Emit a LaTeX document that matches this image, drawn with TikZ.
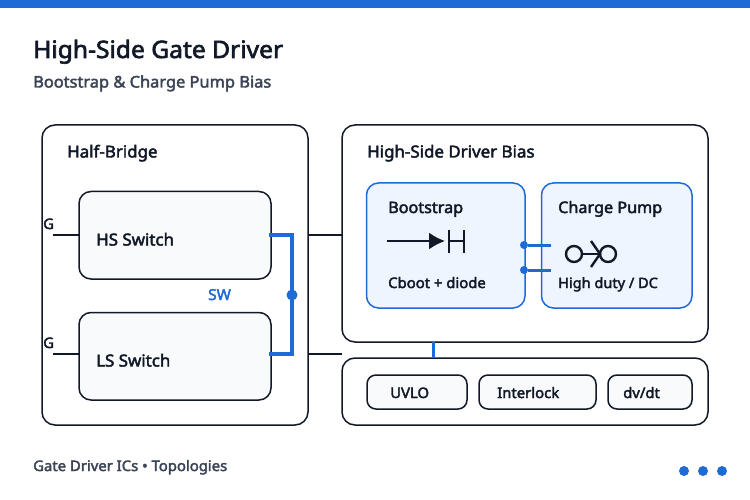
\documentclass[tikz,border=0pt]{standalone}
\usepackage{fontspec}
\setmainfont{Noto Sans}[BoldFont={Noto Sans},BoldFeatures={FakeBold=2.6,FakeStretch=1.025}]
\usetikzlibrary{arrows.meta}
\usetikzlibrary{positioning}
\usetikzlibrary{calc}
\definecolor{accent}{HTML}{1F6BD6}
\definecolor{ink}{HTML}{111827}
\definecolor{slate}{HTML}{3B4456}
\definecolor{softfill}{HTML}{F8FAFC}
\definecolor{bluefill}{HTML}{EEF5FE}
\tikzstyle{panel} = [rectangle, draw=ink, line width=1.5pt, fill=white, rounded corners=13pt, anchor=north west, inner sep=0pt, outer sep=0pt]
\tikzstyle{switchbox} = [rectangle, draw=ink, line width=1.5pt, fill=softfill, rounded corners=12pt, anchor=north west, inner sep=0pt, outer sep=0pt]
\tikzstyle{biasbox} = [rectangle, draw=accent, line width=1.5pt, fill=bluefill, rounded corners=12pt, anchor=north west, inner sep=0pt, outer sep=0pt]
\tikzstyle{chip} = [rectangle, draw=ink, line width=1.5pt, fill=softfill, rounded corners=9pt, anchor=north west, inner sep=0pt, outer sep=0pt]
\tikzstyle{headtext} = [anchor=base west, inner sep=0pt, text=ink, font=\bfseries\fontsize{16.5}{18}\selectfont]
\tikzstyle{smalltext} = [anchor=base west, inner sep=0pt, text=ink, font=\bfseries\fontsize{14.5}{16}\selectfont]
\tikzstyle{wire} = [draw=ink, line width=2pt]
\tikzstyle{bluewire} = [draw=accent, line width=3pt]
\tikzstyle{junction} = [circle, fill=accent, inner sep=0pt, outer sep=0pt, minimum size=8pt]
\tikzstyle{pumpring} = [circle, draw=ink, line width=2.4pt, inner sep=0pt, outer sep=0pt, minimum size=16pt]
\tikzstyle{pagedot} = [circle, fill=accent, inner sep=0pt, outer sep=0pt, minimum size=10pt]

\begin{document}
\begin{tikzpicture}[x=1pt,y=-1pt]
	\useasboundingbox (0,0) rectangle (750,500);

	% header
	\node [rectangle, fill=accent, anchor=north west, minimum width=750pt, minimum height=8pt, inner sep=0pt, outer sep=0pt] (topbar) at (0,0) {};
	\node [anchor=base west, inner sep=0pt, text=ink, font=\bfseries\fontsize{24}{28}\selectfont] (title) at (33,58) {High-Side Gate Driver};
	\node [anchor=base west, inner sep=0pt, text=slate, font=\bfseries\fontsize{16}{18}\selectfont] (subtitle) at (33,87.5) {Bootstrap \& Charge Pump Bias};

	% panels
	\node [panel, minimum width=266pt, minimum height=300pt] (bridge) at (42,125) {};
	\node [panel, minimum width=366pt, minimum height=217pt] (bias) at (342,125) {};
	\node [panel, minimum width=366pt, minimum height=67pt] (protect) at (342,358) {};
	\node [headtext] (bridgelabel) at (67,157.5) {Half-Bridge};
	\node [headtext] (biaslabel) at (367,157.5) {High-Side Driver Bias};

	% half bridge
	\node [switchbox, minimum width=192pt, minimum height=87.5pt] (HS) at (79,191.5) {};
	\node [switchbox, minimum width=192pt, minimum height=87.5pt] (LS) at (79,312.5) {};
	\node [headtext] (hslabel) at (96,245.5) {HS Switch};
	\node [headtext] (lslabel) at (96,366.5) {LS Switch};
	\node [smalltext] (ghs) at (43,229) {G};
	\node [smalltext] (gls) at (43,348) {G};
	\coordinate (hsgate) at (53,234.5);
	\coordinate (lsgate) at (53,353.5);
	\draw[wire] (hsgate) -- (hsgate -| HS.west);
	\draw[wire] (lsgate) -- (lsgate -| LS.west);

	% switch node
	\node [junction, minimum size=11pt] (swdot) at (292,295) {};
	\node [anchor=base west, inner sep=0pt, text=accent, font=\bfseries\fontsize{15}{16}\selectfont] (swlabel) at (208,300) {SW};
	\coordinate (hsport) at (269,234.5);
	\coordinate (lsport) at (269,353.5);
	\draw[bluewire, line width=4pt] (hsport) -| (swdot.center) |- (lsport);
	\draw[wire] (hsgate -| bridge.east) -- (hsgate -| bias.west);
	\draw[wire] (lsgate -| bridge.east) -- (lsgate -| bias.west);

	% bias blocks
	\node [biasbox, minimum width=158.5pt, minimum height=125pt] (boot) at (366.5,183) {};
	\node [biasbox, minimum width=150.5pt, minimum height=125pt] (pump) at (541.5,183) {};
	\node [headtext, font=\bfseries\fontsize{15.8}{18}\selectfont] (bootlabel) at (388,213) {Bootstrap};
	\node [headtext, font=\bfseries\fontsize{15.8}{18}\selectfont] (pumplabel) at (558,213) {Charge Pump};
	\node [smalltext] (bootnote) at (388,288) {Cboot + diode};
	\node [smalltext, font=\bfseries\fontsize{14.2}{16}\selectfont] (pumpnote) at (558,288) {High duty / DC};

	% diode symbol
	\coordinate (diodein) at (387,241);
	\coordinate (diodebar) at (449,241);
	\coordinate (diodeout) at (464,241);
	\draw[wire, -{Latex[length=16pt, width=17pt]}] (diodein) -- (445,241);
	\draw[draw=ink, line width=1.5pt] (449,230) -- (449,253) (diodebar) -- (diodeout) (464,230) -- (464,253);

	% pump symbol
	\node [pumpring] (ringa) at (574,254) {};
	\node [pumpring] (ringb) at (608,254) {};
	\draw[wire] (ringa) -- (ringb);
	\draw[wire, line width=2.4pt] (591,241) -- (600,254) -- (591,267);

	% links
	\node [junction] (linka) at (524,245) {};
	\node [junction] (linkb) at (524,270) {};
	\coordinate (linkaend) at (551,245);
	\coordinate (linkbend) at (551,270);
	\draw[bluewire] (linka) -- (linkaend);
	\draw[bluewire] (linkb) -- (linkbend);
	\coordinate (tiex) at (433,0);
	\draw[bluewire] (tiex |- bias.south) -- (tiex |- protect.north);

	% protection chips
	\node [chip, minimum width=100pt, minimum height=34pt] (uvlo) at (367,375) {};
	\node [chip, minimum width=117pt, minimum height=34pt] (lock) at (479,375) {};
	\node [chip, minimum width=84pt, minimum height=34pt] (dvdt) at (608,375) {};
	\node [smalltext] (uvlolabel) at (390,398) {UVLO};
	\node [smalltext] (locklabel) at (497,398) {Interlock};
	\node [smalltext] (dvdtlabel) at (623,398) {dv/dt};

	% footer
	\node [anchor=base west, inner sep=0pt, text=slate, font=\bfseries\fontsize{14.5}{16}\selectfont] (footer) at (33,471) {Gate Driver ICs • Topologies};
	\node [pagedot] (dota) at (684,471) {};
	\node [pagedot] (dotb) at (703,471) {};
	\node [pagedot] (dotc) at (722,471) {};
\end{tikzpicture}
\end{document}
